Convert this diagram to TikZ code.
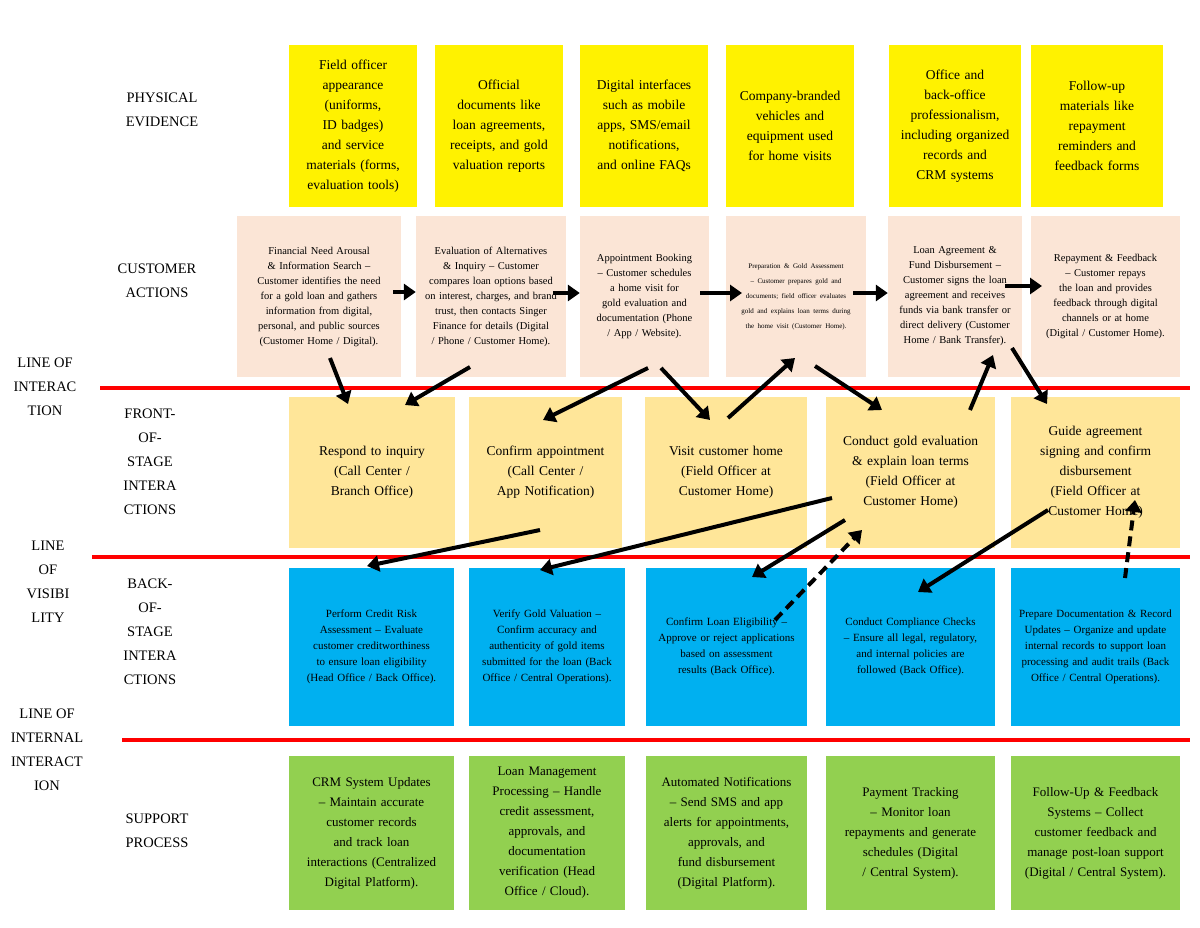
\documentclass[tikz,border=0pt]{standalone}
\usepackage{fontspec}
\setmainfont{Liberation Serif}
\usetikzlibrary{arrows.meta}
\tikzset{
  box/.style={draw=none, align=center, inner sep=3pt},
  pe/.style={box, fill=yellow, font=\fontsize{13.5}{20}\selectfont},
  ca/.style={box, fill={rgb,255:red,251;green,229;blue,214}, font=\fontsize{10.5}{15}\selectfont},
  fs/.style={box, fill={rgb,255:red,255;green,230;blue,153}, font=\fontsize{13.5}{20}\selectfont},
  bs/.style={box, fill={rgb,255:red,0;green,176;blue,240}, font=\fontsize{11}{16}\selectfont},
  sp/.style={box, fill={rgb,255:red,146;green,208;blue,80}, font=\fontsize{13}{20}\selectfont},
  lane/.style={align=center, font=\fontsize{14.5}{24}\selectfont},
  divider/.style={draw=red, line width=4pt},
  flow/.style={draw, line width=4pt, -{Triangle[length=12pt,width=16pt]}},
  back/.style={flow, dash pattern=on 10pt off 6pt}
}
\newcommand{\cell}[7]{% style, name, x1, y1, x2, y2, text inset ; text follows
  \node[#1, minimum width={#5-#3}, minimum height={#6-#4}, text width={#5-#3-#7}] (#2) at ({(#3+#5)/2},{(#4+#6)/2})}
\hyphenpenalty=10000
\exhyphenpenalty=10000
\tolerance=9999
\begin{document}
\begin{tikzpicture}[x=1pt,y=-1pt]
\useasboundingbox (0,0) rectangle (1200,927);
% lane labels
\node[lane] (lpe) at (162,110) {PHYSICAL\\EVIDENCE};
\node[lane] (lca) at (157,281) {CUSTOMER\\ACTIONS};
\node[lane] (lli) at (45,387) {LINE OF\\INTERAC\\TION};
\node[lane] (lfs) at (150,462) {FRONT-\\OF-\\STAGE\\INTERA\\CTIONS};
\node[lane] (llv) at (48,582) {LINE\\OF\\VISIBI\\LITY};
\node[lane] (lbs) at (150,632) {BACK-\\OF-\\STAGE\\INTERA\\CTIONS};
\node[lane] (lii) at (47,750) {LINE OF\\INTERNAL\\INTERACT\\ION};
\node[lane] (lsp) at (157,831) {SUPPORT\\PROCESS};
% dividing lines
\draw[divider] (100,388) -- (1190,388);
\draw[divider] (92,557) -- (1190,557);
\draw[divider] (122,740) -- (1190,740);
% physical evidence
\cell{pe}{pe1}{289}{45}{417}{207}{26} {Field officer appearance (uniforms, ID badges) and service materials (forms, evaluation tools)};
\cell{pe}{pe2}{435}{45}{563}{207}{26} {Official documents like loan agreements, receipts, and gold valuation reports};
\cell{pe}{pe3}{580}{45}{708}{207}{22} {Digital interfaces such as mobile apps, SMS/email notifications, and online FAQs};
\cell{pe}{pe4}{726}{45}{854}{207}{22} {Company-branded vehicles and equipment used for home visits};
\cell{pe}{pe5}{889}{45}{1021}{207}{18} {Office and back-office professionalism, including organized records and CRM systems};
\cell{pe}{pe6}{1031}{45}{1163}{207}{22} {Follow-up materials like repayment reminders and feedback forms};
% customer actions
\cell{ca}{ca1}{237}{216}{401}{377}{18} {Financial Need Arousal \& Information Search – Customer identifies the need for a gold loan and gathers information from digital, personal, and public sources (Customer Home / Digital).};
\cell{ca}{ca2}{416}{216}{566}{377}{12} {Evaluation of Alternatives \& Inquiry – Customer compares loan options based on interest, charges, and brand trust, then contacts Singer Finance for details (Digital / Phone / Customer Home).};
\cell{ca}{ca3}{580}{216}{709}{377}{24} {Appointment Booking – Customer schedules a home visit for gold evaluation and documentation (Phone / App / Website).};
\cell{ca}{ca4}{726}{216}{866}{377}{18} {\fontsize{7}{15}\selectfont Preparation \& Gold Assessment – Customer prepares gold and documents; field officer evaluates gold and explains loan terms during the home visit (Customer Home).};
\cell{ca}{ca5}{888}{216}{1022}{377}{14} {Loan Agreement \& Fund Disbursement – Customer signs the loan agreement and receives funds via bank transfer or direct delivery (Customer Home / Bank Transfer).};
\cell{ca}{ca6}{1031}{216}{1180}{377}{22} {Repayment \& Feedback – Customer repays the loan and provides feedback through digital channels or at home (Digital / Customer Home).};
% front of stage
\cell{fs}{fs1}{289}{397}{455}{548}{30} {Respond to inquiry (Call Center / Branch Office)};
\cell{fs}{fs2}{469}{397}{622}{548}{30} {Confirm appointment (Call Center / App Notification)};
\cell{fs}{fs3}{645}{397}{807}{548}{30} {Visit customer home (Field Officer at Customer Home)};
\cell{fs}{fs4}{826}{397}{995}{548}{30} {Conduct gold evaluation \& explain loan terms (Field Officer at Customer Home)};
\cell{fs}{fs5}{1011}{397}{1180}{548}{30} {Guide agreement signing and confirm disbursement (Field Officer at Customer Home)};
% back of stage
\cell{bs}{bs1}{289}{568}{454}{726}{30} {Perform Credit Risk Assessment – Evaluate customer creditworthiness to ensure loan eligibility (Head Office / Back Office).};
\cell{bs}{bs2}{469}{568}{625}{726}{26} {Verify Gold Valuation – Confirm accuracy and authenticity of gold items submitted for the loan (Back Office / Central Operations).};
\cell{bs}{bs3}{646}{568}{807}{726}{22} {Confirm Loan Eligibility – Approve or reject applications based on assessment results (Back Office).};
\cell{bs}{bs4}{826}{568}{995}{726}{22} {Conduct Compliance Checks – Ensure all legal, regulatory, and internal policies are followed (Back Office).};
\cell{bs}{bs5}{1011}{568}{1180}{726}{16} {Prepare Documentation \& Record Updates – Organize and update internal records to support loan processing and audit trails (Back Office / Central Operations).};
% support processes
\cell{sp}{sp1}{289}{756}{454}{910}{26} {CRM System Updates – Maintain accurate customer records and track loan interactions (Centralized Digital Platform).};
\cell{sp}{sp2}{469}{756}{625}{910}{26} {Loan Management Processing – Handle credit assessment, approvals, and documentation verification (Head Office / Cloud).};
\cell{sp}{sp3}{646}{756}{807}{910}{26} {Automated Notifications – Send SMS and app alerts for appointments, approvals, and fund disbursement (Digital Platform).};
\cell{sp}{sp4}{826}{756}{995}{910}{36} {Payment Tracking – Monitor loan repayments and generate schedules (Digital / Central System).};
\cell{sp}{sp5}{1011}{756}{1180}{910}{26} {Follow-Up \& Feedback Systems – Collect customer feedback and manage post-loan support (Digital / Central System).};
% customer journey
\draw[flow] (393,292) -- (ca2.west |- 0,292);
\draw[flow] (553,293) -- (ca3.west |- 0,293);
\draw[flow] (700,293) -- (742,293);
\draw[flow] (853,293) -- (ca5.west |- 0,293);
\draw[flow] (1005,286) -- (1042,286);
% across the line of interaction
\draw[flow] (330,358) -- (348,404);
\draw[flow] (470,367) -- (405,405);
\draw[flow] (648,368) -- (543,420);
\draw[flow] (661,368) -- (710,420);
\draw[flow] (728,418) -- (795,358);
\draw[flow] (815,366) -- (882,410);
\draw[flow] (970,410) -- (993,355);
\draw[flow] (1012,348) -- (1047,404);
% across the line of visibility
\draw[flow] (540,530) -- (367,566);
\draw[flow] (832,498) -- (540,570);
\draw[flow] (845,520) -- (752,577);
\draw[back] (775,620) -- (862,530);
\draw[flow] (1048,510) -- (918,592);
\draw[back] (1125,578) -- (1135,500);
\end{tikzpicture}
\end{document}
